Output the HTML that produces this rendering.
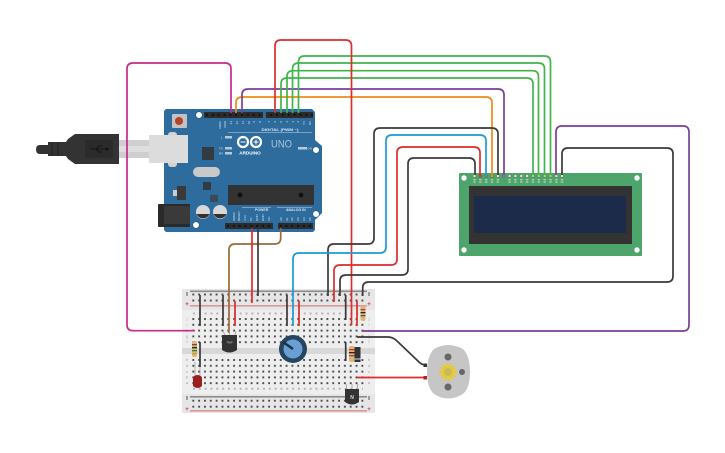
<!DOCTYPE html>
<html><head><meta charset="utf-8"><style>
html,body{margin:0;padding:0;background:#fff;width:725px;height:453px;overflow:hidden}
svg{display:block}
text{font-family:"Liberation Sans",sans-serif}
</style></head><body>
<svg width="725" height="453" viewBox="0 0 725 453" xmlns="http://www.w3.org/2000/svg">
<defs>
<pattern id="h" x="190.35" y="316.05" width="5.83" height="5.8" patternUnits="userSpaceOnUse"><rect x="2" y="2" width="1.9" height="1.9" fill="#4a4a4a"/></pattern>
<pattern id="h2" x="190.35" y="357.05" width="5.83" height="5.8" patternUnits="userSpaceOnUse"><rect x="2" y="2" width="1.9" height="1.9" fill="#4a4a4a"/></pattern>
<pattern id="hp" x="190.35" y="291.55" width="5.83" height="6" patternUnits="userSpaceOnUse"><rect x="2" y="2" width="1.9" height="1.9" fill="#4a4a4a"/></pattern>
<pattern id="hb" x="190.35" y="397.75" width="5.83" height="6" patternUnits="userSpaceOnUse"><rect x="2" y="2" width="1.9" height="1.9" fill="#4a4a4a"/></pattern>
<pattern id="hd" x="204" y="112" width="5.85" height="6" patternUnits="userSpaceOnUse"><rect width="5.85" height="6" fill="#2c2c2c"/><rect x="1.9" y="1.9" width="2" height="2" fill="#111"/></pattern>
<pattern id="hd2" x="225" y="223" width="5.85" height="6" patternUnits="userSpaceOnUse"><rect width="5.85" height="6" fill="#2c2c2c"/><rect x="1.9" y="1.9" width="2" height="2" fill="#111"/></pattern>
</defs>

<!-- USB cable and plug -->
<rect x="119" y="140" width="30" height="18" fill="#cfcfcf"/>
<rect x="119" y="146" width="30" height="6" fill="#dedede"/>
<path d="M40 145H48V142H66L68 139L75 134H119V164H75L68 159L66 156H48V154H40Q36 154 36 149.500Q36 145 40 145Z" fill="#333"/>
<rect x="85" y="140" width="28" height="18" fill="#2b2b2b"/>
<path d="M52 142V156M58 142V156" stroke="#222" stroke-width="1"/>
<path d="M90 149H106M96 149L99 146H102M96 149L99 152H102" stroke="#151515" stroke-width="1" fill="none"/><circle cx="107" cy="149" r="1.600" fill="#151515"/>

<!-- Arduino board -->
<path d="M166 109H312L315 112V140L322 146V213L315 220V230L313 232H166L164 230V111Z" fill="#2e6c9e"/>
<rect x="168" y="132" width="9" height="35" rx="3" fill="#d2d2d2"/>
<rect x="149" y="135" width="39" height="28" fill="#dcdcdc"/>
<rect x="172" y="114" width="15" height="14" rx="1" fill="#c2c2c2"/><circle cx="179" cy="121" r="4" fill="#b5452a"/>
<rect x="204" y="112" width="59" height="6" fill="url(#hd)"/>
<rect x="266" y="112" width="47" height="6" fill="url(#hd)"/>
<rect x="225" y="223" width="48" height="6" fill="url(#hd2)"/>
<rect x="278" y="223" width="35" height="6" fill="url(#hd2)"/>
<circle cx="199" cy="115" r="3.300" fill="#fff" stroke="#1f4f77" stroke-width=".6"/>
<circle cx="316" cy="150" r="3.300" fill="#fff" stroke="#1f4f77" stroke-width=".6"/>
<circle cx="316" cy="214" r="3.300" fill="#fff" stroke="#1f4f77" stroke-width=".6"/>
<circle cx="196" cy="225" r="3.300" fill="#fff" stroke="#1f4f77" stroke-width=".6"/>
<rect x="202" y="147" width="12" height="13" fill="#333b42"/>
<rect x="193" y="167" width="27" height="10" rx="5" fill="#c9c9c9"/>
<rect x="203" y="182" width="8" height="8" fill="#333b42"/>
<rect x="228" y="185" width="86" height="20" fill="#333"/>
<circle cx="240" cy="195" r="2.400" fill="#111"/><circle cx="301" cy="195" r="2.400" fill="#111"/>
<rect x="173" y="190" width="5" height="6" fill="#ccc"/><rect x="177" y="186" width="9" height="14" fill="#3a3a3a"/>
<rect x="210" y="195" width="8" height="7" fill="#3a4a58"/>
<rect x="158" y="204" width="32" height="23" rx="1" fill="#2a2a2a"/>
<rect x="164" y="206" width="26" height="18" rx="2" fill="#3a3a3a"/>
<circle cx="203" cy="212" r="7" fill="#d8d8d8"/><path d="M196.500 214a7 7 0 0 0 13 0Z" fill="#333"/>
<circle cx="220" cy="212" r="7" fill="#d8d8d8"/><path d="M213.500 214a7 7 0 0 0 13 0Z" fill="#333"/>
<g fill="#b8c8d4">
<rect x="225" y="136" width="7" height="2.500"/><rect x="225" y="147" width="7" height="2.500"/><rect x="225" y="152" width="7" height="2.500"/><rect x="298" y="147" width="9" height="2.500"/>
</g>
<g fill="#dbe6ee" font-size="3"><text x="221" y="138.500">L</text><text x="219" y="149.500">TX</text><text x="219" y="154.500">RX</text><text x="307.500" y="149.500">ON</text></g>
<g fill="none" stroke="#fff" stroke-width="2.200"><circle cx="243" cy="142" r="5"/><circle cx="256" cy="142" r="5"/></g>
<path d="M253.500 142h5M256 139.500v5M240.500 142h5" stroke="#fff" stroke-width="1"/>
<text x="250" y="154.500" font-size="4.600" font-weight="700" fill="#fff" text-anchor="middle">ARDUINO</text>
<text x="281.500" y="147.500" font-size="11" fill="#a9c3d8" text-anchor="middle" textLength="21" lengthAdjust="spacingAndGlyphs">UNO</text>
<text x="280" y="131" font-size="4" font-weight="700" fill="#dbe6ee" text-anchor="middle" textLength="37" lengthAdjust="spacingAndGlyphs">DIGITAL (PWM ~)</text>
<text x="255" y="211" font-size="3.500" font-weight="700" fill="#dbe6ee">POWER</text>
<text x="286" y="211" font-size="3.500" font-weight="700" fill="#dbe6ee">ANALOG IN</text>
<path d="M228 132.500H312M242 207.500H271M277 207.500H312" stroke="#c8d8e4" stroke-width=".5"/>
<g fill="#dbe6ee" font-size="3" text-anchor="end">
<text transform="translate(220 121) rotate(-90)" y="1">AREF</text><text transform="translate(225 121) rotate(-90)" y="1">GND</text>
<text transform="translate(231 121) rotate(-90)" y="1">13</text><text transform="translate(237 121) rotate(-90)" y="1">12</text><text transform="translate(243 121) rotate(-90)" y="1">11</text><text transform="translate(249 121) rotate(-90)" y="1">10</text><text transform="translate(254 121) rotate(-90)" y="1">9</text><text transform="translate(260 121) rotate(-90)" y="1">8</text>
<text transform="translate(269 121) rotate(-90)" y="1">7</text><text transform="translate(275 121) rotate(-90)" y="1">6</text><text transform="translate(281 121) rotate(-90)" y="1">5</text><text transform="translate(287 121) rotate(-90)" y="1">4</text><text transform="translate(293 121) rotate(-90)" y="1">3</text><text transform="translate(298 121) rotate(-90)" y="1">2</text><text transform="translate(304 121) rotate(-90)" y="1">TX</text><text transform="translate(310 121) rotate(-90)" y="1">RX</text>
</g>
<g fill="#dbe6ee" font-size="3">
<text transform="translate(235 221) rotate(-90)">IOREF</text><text transform="translate(240 221) rotate(-90)">RESET</text><text transform="translate(246 221) rotate(-90)">3.3V</text><text transform="translate(252 221) rotate(-90)">5V</text><text transform="translate(258 221) rotate(-90)">GND</text><text transform="translate(264 221) rotate(-90)">GND</text><text transform="translate(270 221) rotate(-90)">Vin</text>
<text transform="translate(282 221) rotate(-90)">A0</text><text transform="translate(288 221) rotate(-90)">A1</text><text transform="translate(293 221) rotate(-90)">A2</text><text transform="translate(299 221) rotate(-90)">A3</text><text transform="translate(305 221) rotate(-90)">A4</text><text transform="translate(311 221) rotate(-90)">A5</text>
</g>

<!-- Breadboard -->
<rect x="182" y="289" width="193" height="124" rx="1" fill="#e6e6e6"/>
<rect x="182" y="310" width="193" height="84" fill="#eeeeee"/>
<rect x="182" y="348" width="193" height="6" fill="#d8d8d8"/>
<rect x="190" y="290.500" width="177" height="1.600" fill="#8b8b8b"/>
<rect x="190" y="305" width="177" height="1.600" fill="#d99a9a"/>
<rect x="190" y="396" width="177" height="1.600" fill="#8b8b8b"/>
<rect x="190" y="410" width="177" height="1.600" fill="#d99a9a"/>
<rect x="190.350" y="291.550" width="175" height="12" fill="url(#hp)"/>
<rect x="190.350" y="316.050" width="175" height="29" fill="url(#h)"/>
<rect x="190.350" y="357.050" width="175" height="29" fill="url(#h2)"/>
<rect x="190.350" y="397.750" width="175" height="12" fill="url(#hb)"/>
<path d="M193 313.500H363M193 388.700H363" stroke="#b5b5b5" stroke-width="2" stroke-dasharray="2 3.830"/>
<g font-size="3.500" fill="#999" text-anchor="middle">
<text x="187" y="320">j</text><text x="187" y="326">i</text><text x="187" y="332">h</text><text x="187" y="337.500">g</text><text x="187" y="343">f</text>
<text x="187" y="361">e</text><text x="187" y="367">d</text><text x="187" y="373">c</text><text x="187" y="378.500">b</text><text x="187" y="384">a</text>
<text x="369" y="320">j</text><text x="369" y="326">i</text><text x="369" y="332">h</text><text x="369" y="337.500">g</text><text x="369" y="343">f</text>
<text x="369" y="361">e</text><text x="369" y="367">d</text><text x="369" y="373">c</text><text x="369" y="378.500">b</text><text x="369" y="384">a</text>
</g>
<g font-size="6" fill="#c33" font-weight="700" text-anchor="middle"><text x="187" y="306">+</text><text x="369" y="306">+</text><text x="187" y="411">+</text><text x="369" y="411">+</text></g>
<g stroke="#555" stroke-width="1"><path d="M187 292v4M369 292v4M187 396v4M369 396v4"/></g>

<!-- LCD -->
<rect x="459" y="173" width="183" height="83" rx="1" fill="#4ea56b"/>
<rect x="469" y="186" width="163" height="58" fill="#333"/>
<rect x="474" y="196" width="152" height="37" fill="#1c2b4a"/>
<g fill="#fff"><circle cx="464" cy="178" r="2.700"/><circle cx="637" cy="178" r="2.700"/><circle cx="464" cy="250" r="2.700"/><circle cx="637" cy="250" r="2.700"/></g>
<g fill="#e9e5c8" stroke="#555" stroke-width=".4">
<circle cx="474.500" cy="176" r="1.500"/><circle cx="480.300" cy="176" r="1.500" fill="#e33"/><circle cx="486.200" cy="176" r="1.500" fill="#49c"/><circle cx="492" cy="176" r="1.500" fill="#e90"/><circle cx="497.900" cy="176" r="1.500"/><circle cx="503.700" cy="176" r="1.500" fill="#a6c"/><circle cx="509.600" cy="176" r="1.500"/><circle cx="515.400" cy="176" r="1.500"/><circle cx="521.300" cy="176" r="1.500"/><circle cx="527.100" cy="176" r="1.500"/><circle cx="533" cy="176" r="1.500" fill="#ad6"/><circle cx="538.800" cy="176" r="1.500" fill="#ad6"/><circle cx="544.700" cy="176" r="1.500" fill="#ad6"/><circle cx="550.500" cy="176" r="1.500" fill="#ad6"/><circle cx="556.400" cy="176" r="1.500"/><circle cx="562" cy="176" r="1.500"/>
</g>
<path d="M474.500 179V183M480.300 179V183M486.200 179V183M492 179V183M497.900 179V183M509.600 179V183M515.400 179V183M521.300 179V183M527.100 179V183M533 179V183M538.800 179V183M544.700 179V183M550.500 179V183M556.400 179V183M562 179V183" stroke="#a9d0b6" stroke-width="2.500" stroke-dasharray="1 .6"/>

<!-- Motor -->
<path d="M434 349Q448 341 463 349Q470 356 470 372Q470 388 463 394Q448 403 434 394Q427 388 427 372Q427 356 434 349Z" fill="#c6c6c6"/>
<circle cx="448" cy="357" r="3.500" fill="#666"/><circle cx="448" cy="387" r="3.500" fill="#666"/><circle cx="462" cy="372" r="3" fill="#666"/>
<circle cx="448" cy="372" r="6.500" fill="#e8c92e"/>
<circle cx="448" cy="372" r="8" fill="none" stroke="#e8c92e" stroke-width="2" stroke-dasharray="2 1.500"/>
<circle cx="448" cy="372" r="4" fill="#c9b95a"/>

<!-- Wires -->
<g fill="none" stroke-width="1.700" stroke-linejoin="round">
<path d="M195 330.700H133Q127 330.700 127 325V69Q127 63 133 63H225Q231 63 231 69V113" stroke="#c9298f"/>
<path d="M236 113V103Q236 97 242 97H486Q492 97 492 103V175" stroke="#ee8a14"/>
<path d="M242 113V95Q242 89 248 89H498Q504 89 504 95V175" stroke="#7b3f98"/>
<path d="M281 113V84Q281 78 287 78H527Q533 78 533 84V175" stroke="#3fb54a"/>
<path d="M287 113V76.700Q287 70.700 293 70.700H532.500Q538.500 70.700 538.500 76.700V175" stroke="#3fb54a"/>
<path d="M292.500 113V69Q292.500 63 298.500 63H538.500Q544.500 63 544.500 69V175" stroke="#3fb54a"/>
<path d="M298.500 113V62Q298.500 56 304.500 56H544.500Q550.500 56 550.500 62V175" stroke="#3fb54a"/>
<path d="M275 113V46Q275 40 281 40H345.500Q351.500 40 351.500 46V325" stroke="#dd2c2c"/>
<path d="M328 296V250Q328 244 334 244H368Q374 244 374 238V134Q374 128 380 128H492Q498 128 498 134V175" stroke="#3a3a3a"/>
<path d="M293 326V259Q293 253 299 253H380Q386 253 386 247V141Q386 135 392 135H480Q486 135 486 141V175" stroke="#1d9ad6"/>
<path d="M334 302V271Q334 265 340 265H391Q397 265 397 259V153Q397 147 403 147H474Q480 147 480 153V175" stroke="#dd2c2c"/>
<path d="M340 296V281Q340 275 346 275H402Q408 275 408 269V164Q408 158 414 158H469Q475 158 475 164V175" stroke="#3a3a3a"/>
<path d="M362.700 296V288Q362.700 282 368.700 282H667Q673 282 673 276V154Q673 148 667 148H568Q562 148 562 154V175" stroke="#3a3a3a"/>
<path d="M362 331H683Q689 331 689 325V132Q689 126 683 126H562Q556 126 556 132V175" stroke="#7b3f98"/>
<path d="M357 337H388Q393 337 397 341L419 362Q422 365 426 365" stroke="#3a3a3a"/>
<path d="M357 377.500H426" stroke="#dd2c2c"/>
<path d="M280.700 228V238Q280.700 244 274.700 244H235Q229 244 229 250V333" stroke="#9c6a3a"/>
<path d="M252 228V303" stroke="#dd2c2c"/>
<path d="M258 228V296" stroke="#3a3a3a"/>
</g>
<g stroke-width="1.700" fill="none">
<path d="M200 295V326M223 295V326M287 295V326M345.700 295V320M200 342V367M345.700 342V361" stroke="#3a3a3a"/>
<path d="M235 301V326M299 301V326M357 301V326" stroke="#dd2c2c"/>
</g>
<rect x="423.500" y="363.500" width="3.500" height="3.500" fill="#333"/><rect x="423.500" y="376" width="3.500" height="3.500" fill="#b52020"/>

<!-- Breadboard components -->
<path d="M222 335H237V350Q229.500 355 222 350Z" fill="#333"/>
<text x="229.500" y="343.500" font-size="3" fill="#ccc" text-anchor="middle">TMP</text>
<path d="M225 335L223 331M229.500 335V331M235 335L236 331" stroke="#999" stroke-width=".8"/>
<path d="M345 389H359V402Q352 407 345 402Z" fill="#333"/>
<text x="352" y="399" font-size="5" font-weight="700" fill="#ddd" text-anchor="middle">N</text>
<path d="M347 389L346 384M352 389V384M357 389L358 384" stroke="#999" stroke-width=".8"/>
<circle cx="293" cy="349" r="14" fill="#26455f"/>
<circle cx="293" cy="349" r="9.500" fill="#6a9fd4"/>
<path d="M293 349L283 342" stroke="#1d3346" stroke-width="2.500"/>
<path d="M193 379Q193 375 197.500 375Q202 375 202 379V386Q197.500 390 193 386Z" fill="#9c1f1f"/>
<path d="M195 362V375M200 367V375" stroke="#999" stroke-width=".7"/>
<rect x="354.500" y="347" width="6" height="15" fill="#333"/><rect x="354.500" y="358" width="6" height="2" fill="#7a8a9a"/>
<g>
<rect x="192" y="341" width="5" height="16" rx="2" fill="#d9b77a"/>
<rect x="192" y="344" width="5" height="1.300" fill="#7a4a2a"/><rect x="192" y="347" width="5" height="1.300" fill="#222"/><rect x="192" y="350" width="5" height="1.300" fill="#2a8a3a"/><rect x="192" y="353" width="5" height="1.300" fill="#c9a23a"/>
<rect x="360.500" y="306" width="5" height="15" rx="2" fill="#d9b77a"/>
<rect x="360.500" y="309" width="5" height="1.300" fill="#c33"/><rect x="360.500" y="312" width="5" height="1.300" fill="#222"/><rect x="360.500" y="315" width="5" height="1.300" fill="#7a4a2a"/>
<rect x="349" y="346" width="5.500" height="16" rx="2" fill="#d9b77a"/>
<rect x="349" y="349" width="5.500" height="1.300" fill="#c33"/><rect x="349" y="352" width="5.500" height="1.300" fill="#222"/><rect x="349" y="355" width="5.500" height="1.300" fill="#c33"/>
</g>
</svg>
</body></html>
